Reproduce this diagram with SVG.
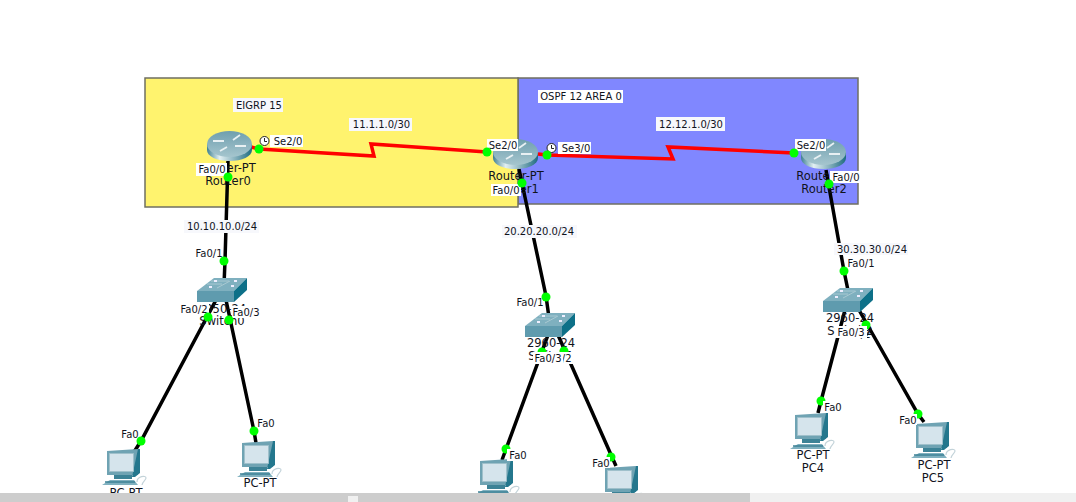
<svg xmlns="http://www.w3.org/2000/svg" width="1076" height="502" viewBox="0 0 1076 502">
<style>
text{font-family:"DejaVu Sans","Liberation Sans",sans-serif;font-size:10px;fill:#10131c;text-anchor:middle}
text.dev{font-size:11.500px}
.bg{fill:#fff}
.soft{fill:#f7f8fc}
.area{stroke:#6f6f62;stroke-width:1.500}
.serial{fill:none;stroke:#f00;stroke-width:3.500}
.eth{fill:none;stroke:#000;stroke-width:3.500}
.dot{fill:#0f0}
</style>
<defs>
<linearGradient id="rt" x1="0" x2="1" y1="0" y2="0">
<stop offset="0" stop-color="#3f8092"/><stop offset=".28" stop-color="#e2eff2"/><stop offset=".55" stop-color="#9cc0ca"/><stop offset="1" stop-color="#1f6b80"/>
</linearGradient>
<linearGradient id="rtop" x1="0" x2="0" y1="0" y2="1">
<stop offset="0" stop-color="#6f9fae"/><stop offset="1" stop-color="#a5c5ce"/>
</linearGradient>
<g id="router">
<path d="M0 13V19C0 25.500 10 30 22.500 30S45 25.500 45 19V13Z" fill="url(#rt)"/>
<ellipse cx="22.500" cy="13" rx="22.500" ry="13" fill="url(#rtop)"/>
<path d="M6 10H17M20 16L13 20M26 9L33 4M28 15H39" stroke="#e8f0f3" stroke-width="1.800" fill="none"/>
</g>
<g id="switch">
<path d="M0 13L17 0H50L37 13Z" fill="#7fb0bf"/>
<path d="M0 13H37V24H0Z" fill="#5f9bae"/>
<path d="M37 13L50 0V12L37 24Z" fill="#0d7088"/>
<path d="M10 6H25M20 10L33 3M14 3L32 3" stroke="#a9c9d2" stroke-width="1" fill="none"/>
<path d="M17 3H20M37 3H40M12 9H15M34 8H37" stroke="#eef" stroke-width="2"/>
</g>
<g id="pc">
<path d="M5 2L36 0V26H5Z" fill="#6fa3b3"/>
<path d="M36 0L38 0V24L33 28H30Z" fill="#24778d"/>
<path d="M7.500 4.500H31.500V22.500H7.500Z" fill="#d5e4ec" stroke="#9fc0cb"/>
<path d="M12 26H30V30H12Z" fill="#3c8296"/>
<path d="M8 31H32L36 36H0Z" fill="#7fb0bf"/>
<path d="M3 33H33" stroke="#3c8296" stroke-width="1.500"/>
<path d="M35 33C35 27 44 26 44 29C44 31 40 33 40 36" fill="none" stroke="#c3d3d9" stroke-width="1.200"/>
</g>
</defs>
<rect width="1076" height="502" fill="#fff"/>
<g id="areas">
<rect class="area" x="518" y="78" width="340" height="126" fill="#8087ff"/>
<rect class="area" x="145" y="78" width="373" height="129" fill="#fff36e"/>
</g>
<g id="connectors">
<path class="serial" d="M251 147L259 149L374 156L371 144L487 152"/>
<path class="serial" d="M538 154L547 155L673 159L668 147L794 153"/>
<path class="eth" d="M228 161L225 261L224 285"/>
<path class="eth" d="M519 169L546 296L550 325"/>
<path class="eth" d="M826 170L844 271L850 300"/>
<path class="eth" d="M216 300L141 441L134 452"/>
<path class="eth" d="M226 300L254 431L256 443"/>
<path class="eth" d="M548 335L506 449L502 460"/>
<path class="eth" d="M558 335L612 457L616 466"/>
<path class="eth" d="M845 310L821 401L818 413"/>
<path class="eth" d="M859 310L918 414L924 422"/>
</g>
<g id="Router0">
<use href="#router" x="207" y="131"/>
<text class="dev" x="228" y="172">Router-PT</text><text class="dev" x="228" y="185">Router0</text>
<rect class="bg" x="196" y="163" width="31" height="13"/><text x="212" y="173">Fa0/0</text>
<rect class="bg" x="270" y="135" width="33" height="12"/><text x="288" y="145">Se2/0</text>
<circle cx="264.500" cy="141" r="4.500" fill="#fff" stroke="#222"/><path d="M264.500 138V141.500H267" fill="none" stroke="#222"/>
<circle class="dot" cx="259" cy="149" r="4.500"/><circle class="dot" cx="228" cy="177" r="4.500"/>
</g>
<g id="Router1">
<use href="#router" x="493" y="139"/>
<text class="dev" x="516" y="180">Router-PT</text><text class="dev" x="516" y="193">Router1</text>
<rect class="bg" x="487" y="139" width="31" height="12"/><text x="503" y="149">Se2/0</text>
<rect class="bg" x="491" y="184" width="30" height="12"/><text x="506" y="194">Fa0/0</text>
<rect class="bg" x="558" y="142" width="33" height="12"/><text x="576" y="152">Se3/0</text>
<circle cx="551.500" cy="148" r="4.500" fill="#fff" stroke="#222"/><path d="M551.500 145V148.500H554" fill="none" stroke="#222"/>
<circle class="dot" cx="487" cy="152" r="4.500"/><circle class="dot" cx="547" cy="155" r="4.500"/><circle class="dot" cx="522" cy="183" r="4.500"/>
</g>
<g id="Router2">
<use href="#router" x="801" y="139"/>
<text class="dev" x="824" y="180">Router-PT</text><text class="dev" x="824" y="193">Router2</text>
<rect class="bg" x="795" y="139" width="31" height="12"/><text x="811" y="149">Se2/0</text>
<rect class="bg" x="830" y="171" width="30" height="12"/><text x="846" y="181">Fa0/0</text>
<circle class="dot" cx="794" cy="153" r="4.500"/><circle class="dot" cx="829" cy="184" r="4.500"/>
</g>
<g id="Switch0">
<use href="#switch" x="197" y="278"/>
<text class="dev" x="222" y="313">2950-24</text><text class="dev" x="222" y="325">Switch0</text>
<text x="209" y="257">Fa0/1</text>
<rect class="bg" x="179" y="304" width="30" height="11"/><text x="194" y="313">Fa0/2</text>
<rect class="bg" x="232" y="306" width="28" height="12"/><text x="246" y="316">Fa0/3</text>
<circle class="dot" cx="224" cy="261" r="4.500"/><circle class="dot" cx="208" cy="317" r="4.500"/><circle class="dot" cx="229" cy="320" r="4.500"/>
</g>
<g id="Switch1">
<use href="#switch" x="525" y="313"/>
<text class="dev" x="551" y="347">2960-24</text><text class="dev" x="551" y="360">Switch1</text>
<text x="530" y="306">Fa0/1</text>
<circle class="dot" cx="546" cy="297" r="4.500"/><circle class="dot" cx="542" cy="352" r="4.500"/><circle class="dot" cx="564" cy="351" r="4.500"/>
<rect class="bg" x="542" y="352" width="31" height="12"/><text x="558" y="362">Fa0/2</text>
<rect class="bg" x="533" y="352" width="30" height="12"/><text x="548" y="362">Fa0/3</text>
</g>
<g id="Switch2">
<use href="#switch" x="823" y="288"/>
<text class="dev" x="850" y="322">2960-24</text><text class="dev" x="850" y="335">Switch2</text>
<text x="861" y="267">Fa0/1</text>
<circle class="dot" cx="844" cy="271" r="4.500"/><circle class="dot" cx="866" cy="325" r="4.500"/>
<text x="857" y="338">Fa0/2</text>
<rect class="bg" x="835" y="326" width="32" height="12"/><text x="851" y="336">Fa0/3</text>
</g>
<g id="PC0">
<use href="#pc" x="102" y="449"/>
<circle class="dot" cx="141" cy="441" r="4.500"/>
<text x="130" y="438">Fa0</text><text class="dev" x="126" y="497">PC-PT</text>
</g>
<g id="PC1">
<use href="#pc" x="237" y="441"/>
<circle class="dot" cx="254" cy="431" r="4.500"/>
<text x="266" y="427">Fa0</text><text class="dev" x="260" y="487">PC-PT</text>
</g>
<g id="PC2">
<use href="#pc" x="475" y="459"/>
<circle class="dot" cx="506" cy="449" r="4.500"/>
<rect class="bg" x="507" y="449" width="21" height="12"/><text x="518" y="459">Fa0</text>
</g>
<g id="PC3">
<use href="#pc" x="600" y="466"/>
<circle class="dot" cx="611" cy="457" r="4.500"/>
<rect class="bg" x="591" y="457" width="19" height="11"/><text x="601" y="467">Fa0</text>
</g>
<g id="PC4">
<use href="#pc" x="790" y="413"/>
<circle class="dot" cx="821" cy="401" r="4.500"/>
<rect class="bg" x="823" y="401" width="20" height="11"/><text x="833" y="411">Fa0</text>
<text class="dev" x="813" y="459">PC-PT</text><text class="dev" x="813" y="472">PC4</text>
</g>
<g id="PC5">
<use href="#pc" x="911" y="422"/>
<circle class="dot" cx="918" cy="414" r="4.500"/>
<rect class="bg" x="898" y="414" width="19" height="11"/><text x="908" y="424">Fa0</text>
<text class="dev" x="934" y="469">PC-PT</text><text class="dev" x="933" y="482">PC5</text>
</g>
<g id="labels">
<rect class="soft" x="233" y="98" width="50" height="14"/><text x="259" y="109">EIGRP 15</text>
<rect class="soft" x="349" y="118" width="63" height="13"/><text x="381.500" y="128">11.1.1.0/30</text>
<rect class="bg" x="538" y="90" width="85" height="13"/><text x="581" y="100">OSPF 12 AREA 0</text>
<rect class="soft" x="656" y="117" width="69" height="14"/><text x="691" y="128">12.12.1.0/30</text>
<rect class="soft" x="184" y="220" width="75" height="13"/><text x="222" y="230">10.10.10.0/24</text>
<rect class="soft" x="502" y="225" width="75" height="13"/><text x="539" y="235">20.20.20.0/24</text>
<rect class="soft" x="834" y="243" width="74" height="12"/><text x="872" y="253">30.30.30.0/24</text>
</g>
<g id="scrollbar">
<rect x="0" y="493" width="750" height="9" fill="#cdcdcd"/>
<rect x="750" y="493" width="326" height="9" fill="#f0f0f0"/>
<rect x="348" y="496" width="10" height="6" fill="#f0f0f0"/>
</g>
</svg>
